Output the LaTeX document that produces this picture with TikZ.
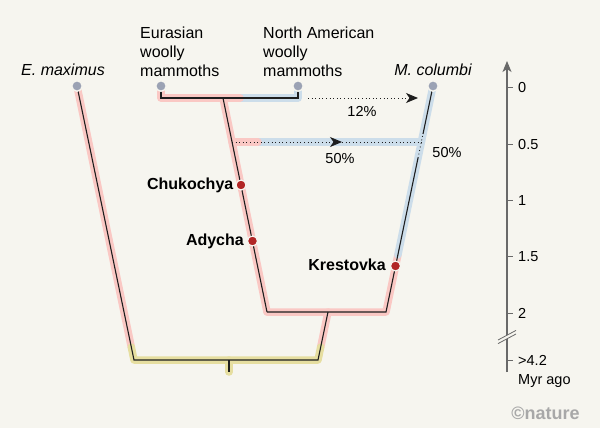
\documentclass[tikz,border=0pt]{standalone}
\usepackage{fontspec}
\setmainfont{Liberation Sans}
\usetikzlibrary{arrows.meta}
\definecolor{bg}{RGB}{246,245,239}
\definecolor{hpink}{RGB}{250,200,196}
\definecolor{hblue}{RGB}{204,221,234}
\definecolor{hyel}{RGB}{230,222,160}
\definecolor{tipc}{RGB}{155,162,180}
\definecolor{redc}{RGB}{178,38,38}
\definecolor{axc}{RGB}{105,105,105}
\definecolor{linec}{RGB}{30,30,30}
\definecolor{logoc}{RGB}{168,168,168}
\tikzset{
  hl/.style={line width=7.5pt, line cap=round, line join=round},
  br/.style={draw=linec, line width=1.1pt},
  tipdot/.style={circle, fill=tipc, draw=bg, line width=1.4pt, minimum size=10.5pt, inner sep=0pt},
  reddot/.style={circle, fill=redc, draw=bg, line width=1.2pt, minimum size=10pt, inner sep=0pt},
  lab/.style={font=\fontsize{16}{19}\selectfont, inner sep=0pt, text=black},
  blab/.style={font=\fontsize{16}{19}\selectfont\bfseries, inner sep=0pt, text=black},
  num/.style={font=\fontsize{14.5}{17}\selectfont, inner sep=0pt, text=black},
  dotl/.style={draw=linec, line width=0.9pt, dash pattern=on 0.9pt off 2.7pt},
  mig/.style={-{Stealth[length=12pt,width=10pt,inset=3.5pt]}},
  tick/.style={draw=axc, line width=1pt},
}
\begin{document}
\begin{tikzpicture}[x=1pt,y=-1pt]
\fill[bg] (0,0) rectangle (600,428);
\useasboundingbox (0,0) rectangle (600,428);

% tips
\node[tipdot] (em) at (77,86) {};
\node[tipdot] (ea) at (161,86) {};
\node[tipdot] (na) at (298,86) {};
\node[tipdot] (mc) at (433,86) {};

% junction coordinates
\coordinate (emh) at (131.3,347);
\coordinate (emb) at (134,360);
\coordinate (root) at (229,360);
\coordinate (rootb) at (229,372);
\coordinate (rr) at (318,360);
\coordinate (rrh) at (320.7,347);
\coordinate (rj) at (328,312);
\coordinate (wl) at (267,312);
\coordinate (wr) at (386,312);
\coordinate (wj) at (223,98);
\coordinate (eab) at (161,98);
\coordinate (nab) at (298,98);
\coordinate (wm) at (240,98);
\coordinate (kh) at (397.9,255);
\coordinate (d1) at (418,158);
\coordinate (d2) at (423,134);
\coordinate (m0) at (232,142);
\coordinate (m1) at (258,142);
\coordinate (marr) at (342,142);
\coordinate (m2) at (421.4,142);
\coordinate (a0) at (308,98);
\coordinate (a1) at (418,98);

% highlights
\draw[hl, hpink] (em.center) -- (emh);
\draw[hl, hpink] (rrh) -- (rj);
\draw[hl, hpink] (wl) -- (wr) -- (kh);
\draw[hl, hpink] (wj) -- (wl);
\draw[hl, hblue] (kh) -- (mc.center);
\draw[hl, hblue] (m1) -- (m2);
\draw[hl, hpink] (m0) -- (m1);
\draw[hl, hblue] (wm) -- (nab) -- (na.center);
\draw[hl, hpink] (ea.center) -- (eab) -- (wm);
\draw[hl, hyel] (emh) -- (emb) -- (rr) -- (rrh);
\draw[hl, hyel] (root) -- (rootb);

% branches
\draw[br] (em.center) -- (emb) -- (rr) -- (rj);
\draw[br] (root) -- (rootb);
\draw[br] (wl) -- (wr) -- (d1);
\draw[br] (d2) -- (mc.center);
\draw[dotl] (d1) -- (d2);
\draw[br] (wj) -- (wl);
\draw[br] (ea.center) -- (eab) -- (nab) -- (na.center);

% migrations
\draw[dotl, mig] (m0) -- (marr);
\draw[dotl] (marr) -- (m2);
\draw[dotl, mig] (a0) -- (a1);

% dots on top
\node[tipdot] at (em) {};
\node[tipdot] at (ea) {};
\node[tipdot] at (na) {};
\node[tipdot] at (mc) {};
\node[reddot] (chu) at (241,185) {};
\node[reddot] (ady) at (252.5,241) {};
\node[reddot] (kre) at (395.5,266) {};

% labels
\node[lab, anchor=base, font=\fontsize{16}{19}\selectfont\itshape] (lem) at (63,75.5) {E. maximus};
\node[lab, anchor=base, font=\fontsize{16}{19}\selectfont\itshape] (lmc) at (433,75.5) {M. columbi};
\node[lab, anchor=north west, align=left] (lea) at (140,26.5) {Eurasian\\woolly\\mammoths};
\node[lab, anchor=north west, align=left] (lna) at (263,26.5) {North American\\woolly\\mammoths};
\node[blab, anchor=base east] (lchu) at (233.5,189.3) {Chukochya};
\node[blab, anchor=base east] (lady) at (244,245) {Adycha};
\node[blab, anchor=base east] (lkre) at (386,270.7) {Krestovka};
\node[num] (p12) at (362,111) {12\%};
\node[num] (p50a) at (340,159) {50\%};
\node[num] (p50b) at (447,153) {50\%};

% axis
\coordinate (ax0) at (507,372);
\coordinate (axb1) at (507,338.8);
\coordinate (axb2) at (507,335.2);
\coordinate (axt) at (507,61);
\draw[draw=axc, line width=1.1pt] (ax0) -- (axb1);
\draw[draw=axc, line width=1.1pt, -{Stealth[length=11pt,width=9pt,inset=3pt]}] (axb2) -- (axt);
\coordinate (s1a) at (498,343.6);
\coordinate (s1b) at (516,334);
\coordinate (s2a) at (498,340);
\coordinate (s2b) at (516,330.4);
\draw[draw=axc, line width=0.8pt] (s1a) -- (s1b);
\draw[draw=axc, line width=0.8pt] (s2a) -- (s2b);
\foreach \y/\t [count=\i] in {88/0, 144.3/0.5, 200.5/1, 256.8/1.5, 313/2, 360.5/{>4.2}} {
  \coordinate (tk\i) at (507,\y);
  \coordinate (te\i) at (513,\y);
  \draw[tick] (tk\i) -- (te\i);
  \node[num, anchor=west] (tl\i) at (518,\y) {\t};
}
\node[num, anchor=base west] (myr) at (518,384.5) {Myr ago};
\node[inner sep=0pt, text=logoc, font=\fontsize{18}{20}\selectfont\bfseries] (logo) at (545.5,413) {©nature};
\end{tikzpicture}
\end{document}
